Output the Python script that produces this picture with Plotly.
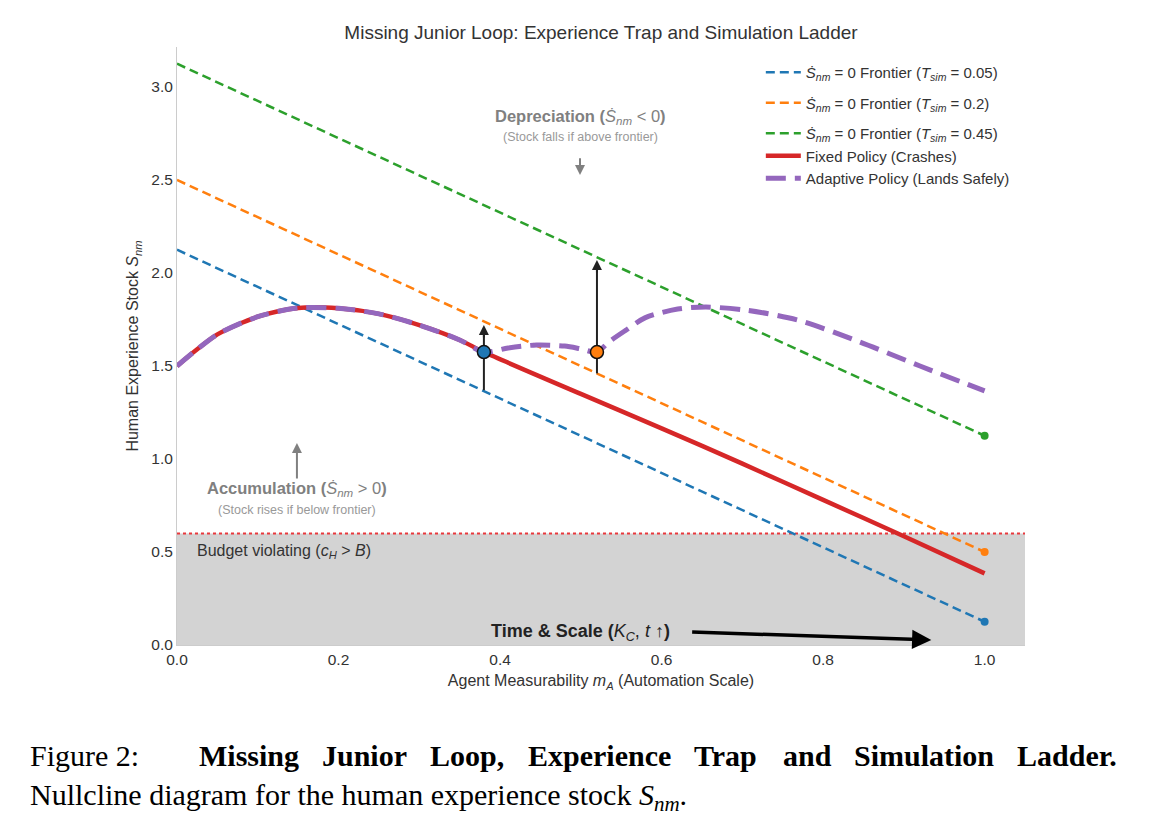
import plotly.graph_objects as go

# ---------------- data ----------------
frontier_x = [0.0, 1.0]
frontier_t005 = [2.125, 0.125]
frontier_t020 = [2.5, 0.5]
frontier_t045 = [3.125, 1.125]

fixed_x = [0.0, 0.025, 0.05, 0.1, 0.15, 0.2, 0.25, 0.3, 0.35, 0.38,
           0.5, 0.6, 0.7, 0.8, 0.9, 1.0]
fixed_y = [1.5, 1.59, 1.67, 1.765, 1.812, 1.81, 1.78, 1.72, 1.64, 1.575,
           1.35, 1.165, 0.975, 0.78, 0.585, 0.385]

adaptive_x = [0.0, 0.025, 0.05, 0.1, 0.15, 0.2, 0.25, 0.3, 0.35, 0.38,
              0.41, 0.445, 0.48, 0.50, 0.52, 0.535, 0.555, 0.58, 0.62,
              0.655, 0.705, 0.77, 0.845, 0.92, 1.0]
adaptive_y = [1.5, 1.59, 1.67, 1.765, 1.812, 1.81, 1.78, 1.72, 1.64, 1.575,
              1.597, 1.613, 1.607, 1.592, 1.575, 1.63, 1.69, 1.76, 1.806,
              1.817, 1.80, 1.745, 1.63, 1.50, 1.366]

switch_x = [0.38, 0.52]
switch_y = [1.575, 1.575]
switch_colors = ["#1f77b4", "#ff7f0e"]

ladder_x = [0.38, 0.52]
ladder_from = [1.37, 1.46]
ladder_to = [1.72, 2.07]

budget_level = 0.6
x_max = 1.05
y_max = 3.215

x_ticks = [0.0, 0.2, 0.4, 0.6, 0.8, 1.0]
y_ticks = [0.0, 0.5, 1.0, 1.5, 2.0, 2.5, 3.0]

caption_words = ["Missing", "Junior", "Loop,", "Experience", "Trap", "and",
                 "Simulation", "Ladder."]

# ---------------- styling ----------------
W, H = 1149, 824
ML, MR, MT, MB = 177, 124, 47, 179
SANS = "Liberation Sans, Arial, sans-serif"
SERIF = "Liberation Serif, Times New Roman, serif"

BLUE, ORANGE, GREEN, RED, PURPLE = "#1f77b4", "#ff7f0e", "#2ca02c", "#d62728", "#9467bd"

def px2paper(px, py):
    return (px - ML) / (W - ML - MR), (H - MB - py) / (H - MT - MB)

# Times/Liberation Serif Bold advance widths (per 1000 em) for justification
TB = {"M": 944, "i": 278, "s": 389, "n": 556, "g": 500, "J": 500, "u": 556,
      "o": 500, "r": 444, "L": 667, "p": 556, ",": 250, "E": 667, "x": 500,
      "e": 444, "c": 444, "T": 667, "a": 500, "d": 556, "S": 556, "m": 833,
      "l": 278, "t": 333, ".": 250}

fig = go.Figure()

SD = "<i>Ṡ</i><sub><i>nm</i></sub>"
for k, (yv, col, lab) in enumerate([(frontier_t005, BLUE, "0.05"),
                                    (frontier_t020, ORANGE, "0.2"),
                                    (frontier_t045, GREEN, "0.45")]):
    grp = f"g{k}" if k < 2 else "last"
    fig.add_trace(go.Scatter(
        x=frontier_x, y=yv, mode="lines", legendgroup=grp,
        line=dict(color=col, width=2.5, dash="9px,5px"),
        name=f"{SD} = 0 Frontier (<i>T</i><sub><i>sim</i></sub> = {lab})"))
    fig.add_trace(go.Scatter(
        x=frontier_x[-1:], y=yv[-1:], mode="markers", legendgroup=grp,
        marker=dict(color=col, size=8), showlegend=False, hoverinfo="skip"))

fig.add_trace(go.Scatter(
    x=fixed_x, y=fixed_y, mode="lines", legendgroup="last",
    line=dict(color=RED, width=4.5, shape="spline", smoothing=0.8),
    name="Fixed Policy (Crashes)"))
fig.add_trace(go.Scatter(
    x=adaptive_x, y=adaptive_y, mode="lines", legendgroup="last",
    line=dict(color=PURPLE, width=5, dash="20px,9px", shape="spline", smoothing=0.8),
    name="Adaptive Policy (Lands Safely)"))

# ladder shafts (drawn under the dots)
for lx, lf, lt in zip(ladder_x, ladder_from, ladder_to):
    fig.add_trace(go.Scatter(
        x=[lx, lx], y=[lf, lt - 0.03], mode="lines",
        line=dict(color="#222222", width=2), showlegend=False, hoverinfo="skip"))

fig.add_trace(go.Scatter(
    x=switch_x, y=switch_y, mode="markers",
    marker=dict(color=switch_colors, size=13, line=dict(color="#111111", width=1.5)),
    showlegend=False, hoverinfo="skip"))

# ---------------- shapes ----------------
fig.add_shape(type="rect", xref="x", yref="y", x0=0, x1=x_max, y0=0, y1=budget_level,
              fillcolor="#d3d3d3", line=dict(width=0), layer="below")
fig.add_shape(type="line", xref="x", yref="y", x0=0, x1=x_max,
              y0=budget_level, y1=budget_level,
              line=dict(color="#e8383d", width=2, dash="dot"), layer="below")

ann = []
for lx, lt in zip(ladder_x, ladder_to):
    ann.append(dict(x=lx, y=lt, xref="x", yref="y", ax=0, ay=14, text="",
                    showarrow=True, arrowhead=2, arrowsize=1, arrowwidth=2,
                    arrowcolor="#222222"))

GRAY = "#808080"
LGRAY = "#999999"
ann += [
    dict(x=0.499, y=2.84, xref="x", yref="y", showarrow=False,
         text=f"<b>Depreciation (</b>{SD} &lt; 0<b>)</b>",
         font=dict(size=16.5, color=GRAY, family=SANS)),
    dict(x=0.499, y=2.73, xref="x", yref="y", showarrow=False,
         text="(Stock falls if above frontier)",
         font=dict(size=12.5, color=LGRAY, family=SANS)),
    dict(x=0.499, y=2.527, ax=0.499, ay=2.625, xref="x", yref="y",
         axref="x", ayref="y", text="", showarrow=True, arrowhead=2,
         arrowsize=1, arrowwidth=2, arrowcolor=GRAY),
    dict(x=0.149, y=0.84, xref="x", yref="y", showarrow=False,
         text=f"<b>Accumulation (</b>{SD} &gt; 0<b>)</b>",
         font=dict(size=16.5, color=GRAY, family=SANS)),
    dict(x=0.149, y=0.726, xref="x", yref="y", showarrow=False,
         text="(Stock rises if below frontier)",
         font=dict(size=12.5, color=LGRAY, family=SANS)),
    dict(x=0.1485, y=1.086, ax=0.1485, ay=0.887, xref="x", yref="y",
         axref="x", ayref="y", text="", showarrow=True, arrowhead=2,
         arrowsize=1, arrowwidth=2, arrowcolor=GRAY),
    dict(x=0.022, y=0.505, xref="x", yref="y", showarrow=False, xanchor="left",
         text="Budget violating (<i>c</i><sub><i>H</i></sub> &gt; <i>B</i>)",
         font=dict(size=16, color="#333333", family=SANS)),
    dict(x=0.499, y=0.065, xref="x", yref="y", showarrow=False,
         text="<b>Time &amp; Scale (</b><i>K</i><sub><i>C</i></sub>, <i>t</i> ↑<b>)</b>",
         font=dict(size=18, color="#222222", family=SANS)),
    dict(x=0.934, y=0.027, ax=0.636, ay=0.07, xref="x", yref="y",
         axref="x", ayref="y", text="", showarrow=True, arrowhead=2,
         arrowsize=1.1, arrowwidth=3.5, arrowcolor="#000000"),
]

# caption (line 1 justified between two pixel edges, like the LaTeX caption)
CAP_SIZE = 30
cap_y1, cap_y2 = 755, 797
line_left, line_right = 197, 1118
widths = [sum(TB.get(c, 500) for c in w) / 1000 * CAP_SIZE for w in caption_words]
gap = (line_right - line_left - sum(widths)) / (len(caption_words) - 1)
x0, y0 = px2paper(28, cap_y1)
ann.append(dict(x=x0, y=y0, xref="paper", yref="paper", xanchor="left",
                yanchor="middle", showarrow=False, text="Figure 2:",
                font=dict(size=CAP_SIZE, color="#000000", family=SERIF)))
cur = line_left
for w, wd in zip(caption_words, widths):
    xx, yy = px2paper(cur, cap_y1)
    ann.append(dict(x=xx, y=yy, xref="paper", yref="paper", xanchor="left",
                    yanchor="middle", showarrow=False, text=f"<b>{w}</b>",
                    font=dict(size=CAP_SIZE, color="#000000", family=SERIF)))
    cur += wd + gap
x2, y2 = px2paper(28, cap_y2)
ann.append(dict(x=x2, y=y2, xref="paper", yref="paper", xanchor="left",
                yanchor="middle", showarrow=False,
                text="Nullcline diagram for the human experience stock <i>S</i><sub><i>nm</i></sub>.",
                font=dict(size=CAP_SIZE, color="#000000", family=SERIF)))

fig.update_layout(
    width=W, height=H,
    margin=dict(l=ML, r=MR, t=MT, b=MB),
    paper_bgcolor="white", plot_bgcolor="white",
    font=dict(family=SANS, size=15, color="#333333"),
    title=dict(text="Missing Junior Loop: Experience Trap and Simulation Ladder",
               x=0.5, xref="paper", xanchor="center",
               y=1 - 32 / H, yref="container", yanchor="middle",
               font=dict(size=19, color="#333333", family=SANS)),
    legend=dict(x=0.988, xanchor="right", y=0.985, yanchor="top",
                bgcolor="rgba(255,255,255,0)", font=dict(size=15, color="#333333"),
                tracegroupgap=8, itemwidth=35),
    annotations=ann,
    showlegend=True,
)
fig.update_xaxes(range=[0, x_max], tickvals=x_ticks, tickformat=".1f",
                 showgrid=False, zeroline=False, showline=True, linecolor="#cccccc",
                 ticks="", tickfont=dict(size=15.5, color="#333333"),
                 title=dict(text="Agent Measurability <i>m</i><sub><i>A</i></sub> (Automation Scale)",
                            font=dict(size=16, color="#333333"), standoff=8))
fig.update_yaxes(range=[0, y_max], tickvals=y_ticks, tickformat=".1f",
                 showgrid=False, zeroline=False, showline=True, linecolor="#cccccc",
                 ticks="", tickfont=dict(size=15.5, color="#333333"),
                 title=dict(text="Human Experience Stock <i>S</i><sub><i>nm</i></sub>",
                            font=dict(size=16, color="#333333"), standoff=8))

fig.write_html("out.html")
